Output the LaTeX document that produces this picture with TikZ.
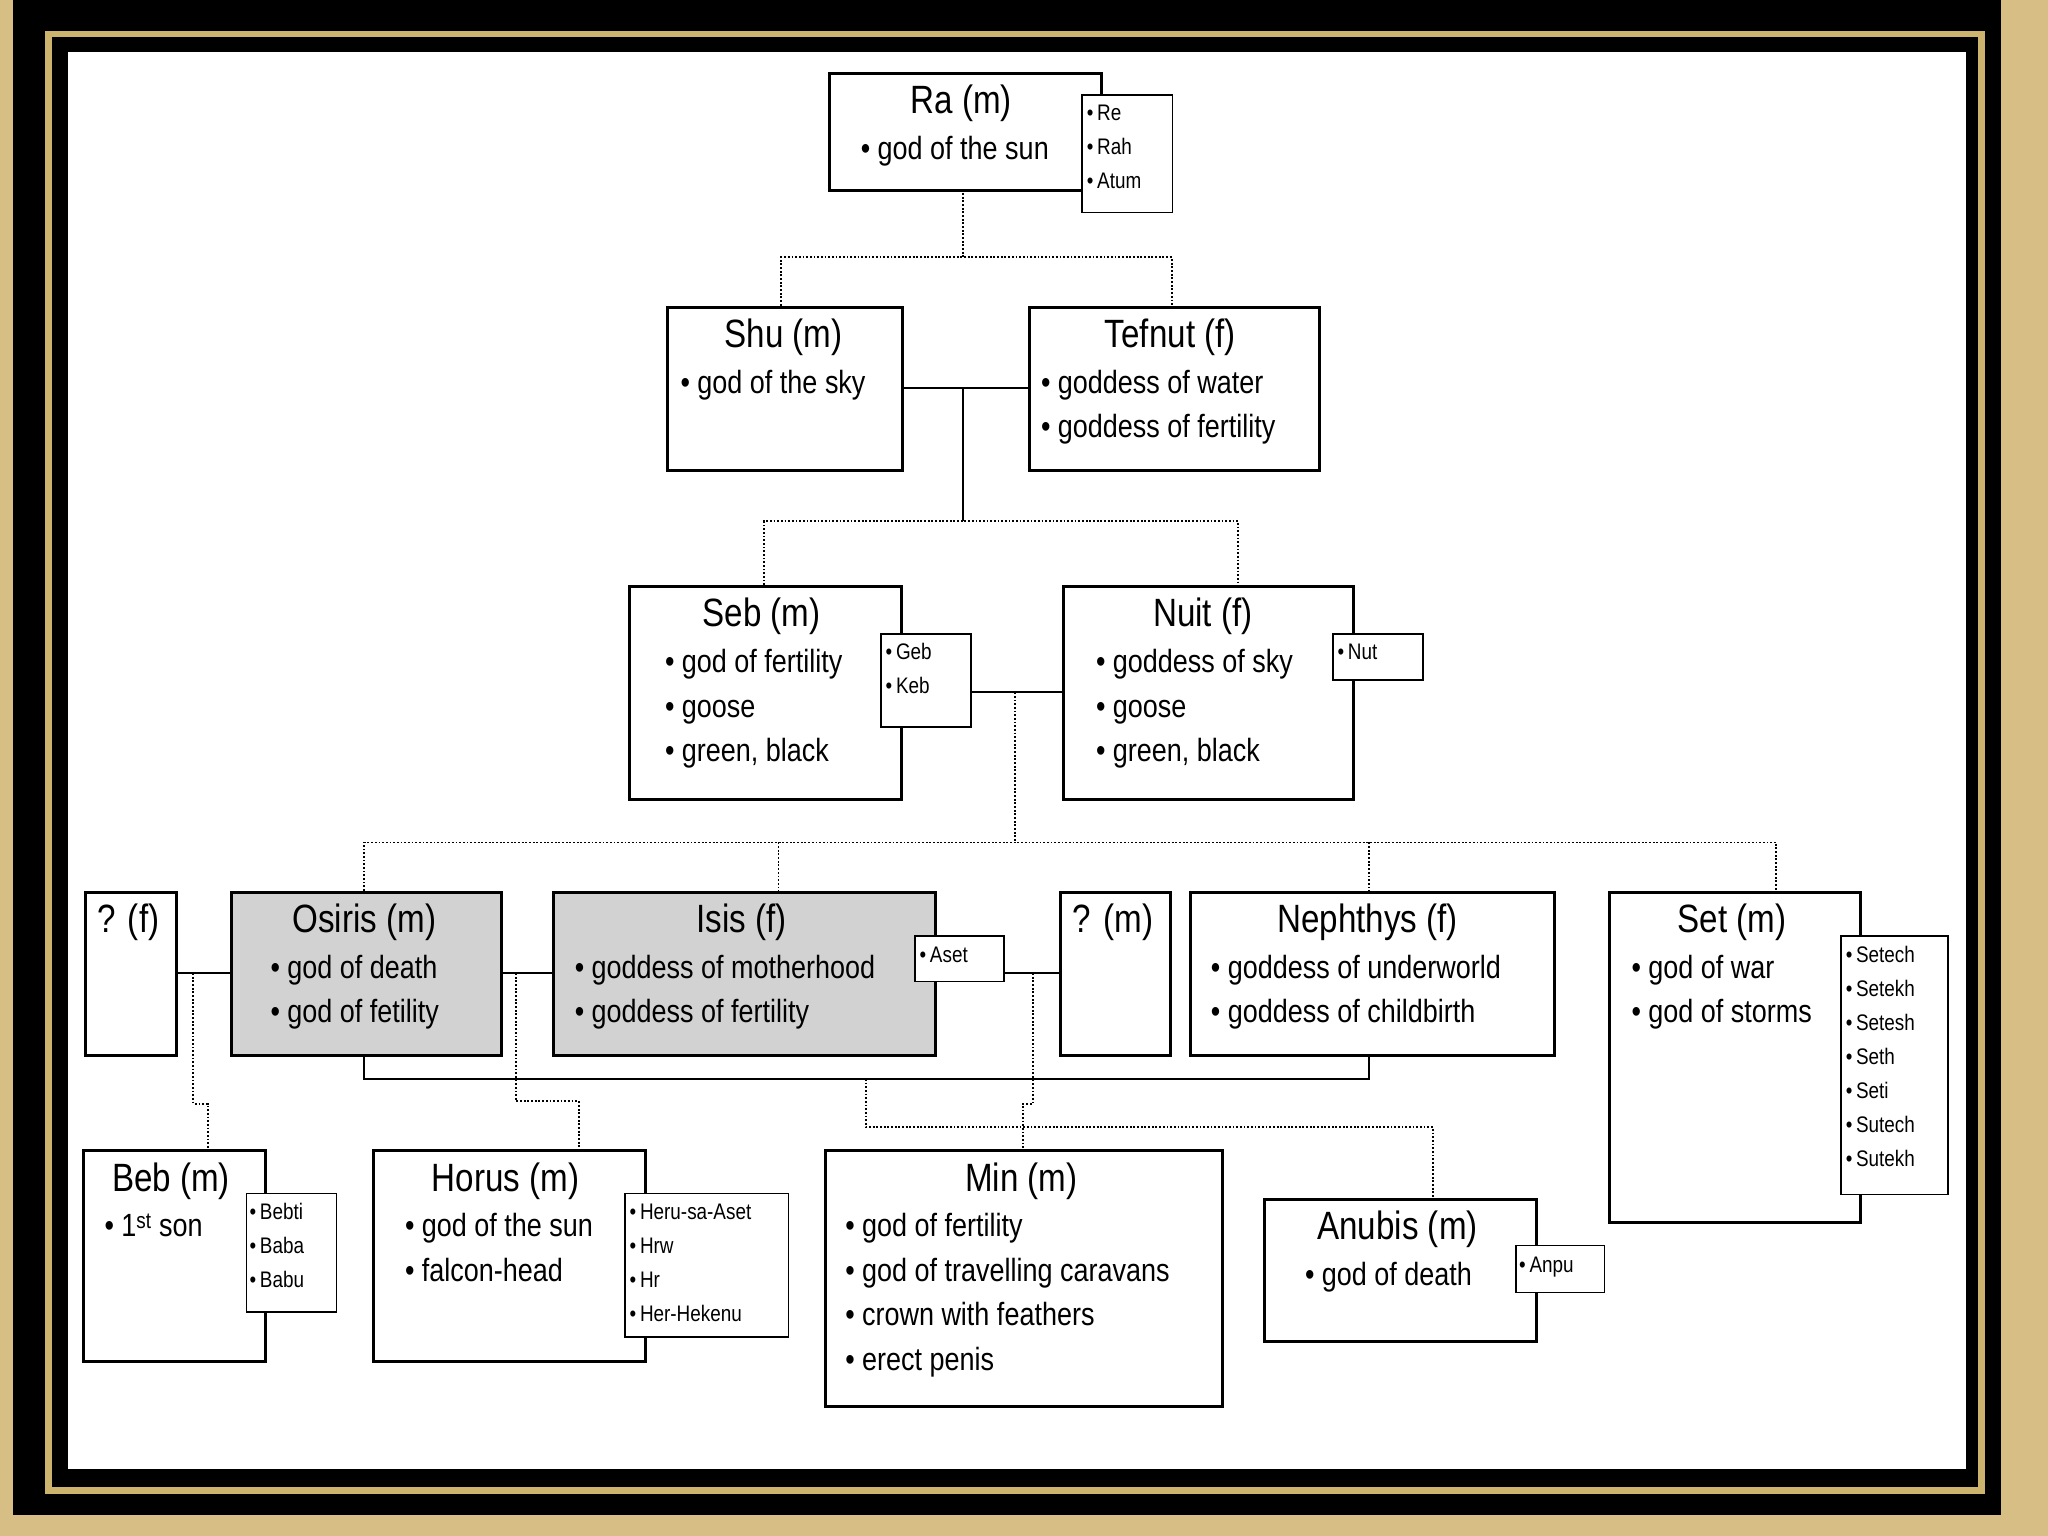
\documentclass[tikz,border=0pt]{standalone}
\usepackage{fontspec}
\setmainfont[FakeStretch=0.84]{Liberation Sans}
\begin{document}
\begin{tikzpicture}[x=0.05cm,y=-0.05cm,
  box/.style={draw,line width=3.2pt,fill=white,anchor=north west,inner sep=0},
  gbox/.style={box,fill=gray!35},
  abox/.style={draw,line width=1.6pt,fill=white,anchor=north west,inner sep=0},
  ttl/.style={font=\fontsize{43}{45}\selectfont,anchor=base},
  bt/.style={font=\fontsize{35}{37}\selectfont,anchor=base west,inner sep=0},
  alt/.style={font=\fontsize{24.5}{26}\selectfont,anchor=base west,inner sep=0},
  sl/.style={line width=2pt},
  dl/.style={line width=2pt,dotted}]
\useasboundingbox (0,0) rectangle (1568,1176);
\fill[fill={rgb,255:red,214;green,190;blue,132}] (0,0) rectangle (1568,1176);
\fill[black] (10,0) rectangle (1532,1160);
\draw[line width=7pt,color={rgb,255:red,205;green,180;blue,110}] (37,26) rectangle (1517,1141);
\fill[white] (52,40) rectangle (1505,1125);
\newcommand\bx[6][box]{\node[#1,minimum width=#4*0.05cm,minimum height=#5*0.05cm] (#2) at (#3) {};}
\newcommand\bl[3]{\node[bt] at (#1,#2) {•\hspace{8pt}#3};}
\newcommand\al[3]{\node[alt] at (#1,#2) {•\hspace{4pt}#3};}
% connectors
\draw[dl] (737,145) -- (737,197);
\draw[dl] (598,234) -- (598,197) -- (897,197) -- (897,234);
\draw[sl] (690,297) -- (787,297);
\draw[sl] (737,297) -- (737,399);
\draw[dl] (585,448) -- (585,399) -- (948,399) -- (948,448);
\draw[sl] (743,530) -- (813,530);
\draw[dl] (777,530) -- (777,645);
\draw[dl] (279,682) -- (279,645) -- (1360,645) -- (1360,682);
\draw[dl] (596,645) -- (596,682);
\draw[dl] (1048,645) -- (1048,682);
\draw[sl] (134,745) -- (176,745);
\draw[dl] (148,745) -- (148,845) -- (159,845) -- (159,880);
\draw[sl] (383,745) -- (423,745);
\draw[dl] (395,745) -- (395,843) -- (443,843) -- (443,880);
\draw[sl] (768,745) -- (811,745);
\draw[dl] (791,745) -- (791,845) -- (783,845) -- (783,880);
\draw[sl] (279,807) -- (279,826) -- (1048,826) -- (1048,807);
\draw[dl] (663,826) -- (663,863) -- (1097,863) -- (1097,917);
% boxes
\bx{ra}{634,55}{208}{90}{}
\bx[abox]{raa}{828,72}{69}{90}{}
\bx{shu}{510,234}{180}{125}{}
\bx{tef}{787,234}{222}{125}{}
\bx{seb}{481,448}{208}{163}{}
\bx[abox]{seba}{674,485}{69}{71}{}
\bx{nuit}{813,448}{222}{163}{}
\bx[abox]{nuita}{1020,485}{69}{35}{}
\bx{qf}{64,682}{70}{125}{}
\bx[gbox]{osi}{176,682}{207}{125}{}
\bx[gbox]{isis}{423,682}{292}{125}{}
\bx[abox]{isisa}{700,716}{68}{35}{}
\bx{qm}{811,682}{84}{125}{}
\bx{neph}{910,682}{279}{125}{}
\bx{set}{1231,682}{192}{253}{}
\bx[abox]{seta}{1409,716}{82}{198}{}
\bx{beb}{63,880}{139}{161}{}
\bx[abox]{beba}{188,913}{69}{91}{}
\bx{hor}{285,880}{208}{161}{}
\bx[abox]{hora}{478,913}{125}{110}{}
\bx{min}{631,880}{304}{196}{}
\bx{anu}{967,917}{208}{109}{}
\bx[abox]{anua}{1160,953}{68}{36}{}
% texts
\node[ttl] at (736,87) {Ra (m)}; \bl{659}{122}{god of the sun}
\al{832}{92}{Re}\al{832}{118}{Rah}\al{832}{144}{Atum}
\node[ttl] at (600,266) {Shu (m)}; \bl{521}{301}{god of the sky}
\node[ttl] at (896,266) {Tefnut (f)}; \bl{797}{301}{goddess of water}\bl{797}{335}{goddess of fertility}
\node[ttl] at (583,480) {Seb (m)}; \bl{509}{515}{god of fertility}\bl{509}{549}{goose}\bl{509}{583}{green, black}
\al{678}{505}{Geb}\al{678}{531}{Keb}
\node[ttl] at (921,480) {Nuit (f)}; \bl{839}{515}{goddess of sky}\bl{839}{549}{goose}\bl{839}{583}{green, black}
\al{1024}{505}{Nut}
\node[ttl,anchor=base west] at (72,714) {? (f)};
\node[ttl] at (279,714) {Osiris (m)}; \bl{207}{749}{god of death}\bl{207}{783}{god of fetility}
\node[ttl] at (568,714) {Isis (f)}; \bl{440}{749}{goddess of motherhood}\bl{440}{783}{goddess of fertility}
\al{704}{737}{Aset}
\node[ttl,anchor=base west] at (819,714) {? (m)};
\node[ttl] at (1047,714) {Nephthys (f)}; \bl{927}{749}{goddess of underworld}\bl{927}{783}{goddess of childbirth}
\node[ttl] at (1326,714) {Set (m)}; \bl{1249}{749}{god of war}\bl{1249}{783}{god of storms}
\al{1413}{737}{Setech}\al{1413}{763}{Setekh}\al{1413}{789}{Setesh}\al{1413}{815}{Seth}\al{1413}{841}{Seti}\al{1413}{867}{Sutech}\al{1413}{893}{Sutekh}
\node[ttl] at (131,912) {Beb (m)}; \bl{80}{947}{1\textsuperscript{st} son}
\al{191}{934}{Bebti}\al{191}{960}{Baba}\al{191}{986}{Babu}
\node[ttl] at (387,912) {Horus (m)}; \bl{310}{947}{god of the sun}\bl{310}{981}{falcon-head}
\al{482}{934}{Heru-sa-Aset}\al{482}{960}{Hrw}\al{482}{986}{Hr}\al{482}{1012}{Her-Hekenu}
\node[ttl] at (782,912) {Min (m)}; \bl{647}{947}{god of fertility}\bl{647}{981}{god of travelling caravans}\bl{647}{1015}{crown with feathers}\bl{647}{1049}{erect penis}
\node[ttl] at (1070,949) {Anubis (m)}; \bl{999}{984}{god of death}
\al{1163}{974}{Anpu}
\end{tikzpicture}
\end{document}
